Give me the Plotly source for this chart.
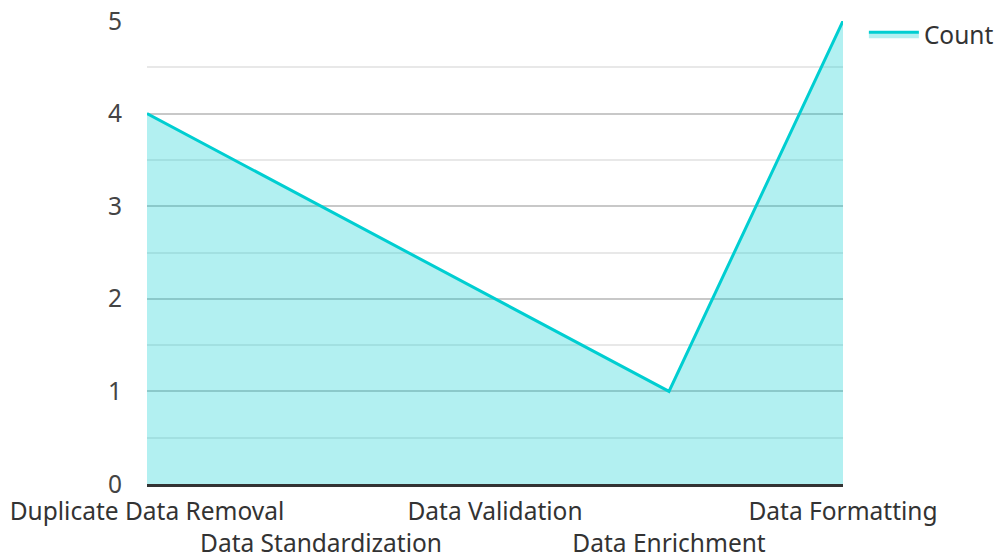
import plotly.graph_objects as go

categories = ["Duplicate Data Removal", "Data Standardization", "Data Validation",
              "Data Enrichment", "Data Formatting"]
counts = [4, 3, 2, 1, 5]
tick_text = [c if i % 2 == 0 else "<br>" + c for i, c in enumerate(categories)]

fig = go.Figure()
fig.add_trace(go.Scatter(
    x=categories, y=counts, name="Count", mode="lines",
    line=dict(color="#00CED1", width=3),
    fill="tozeroy", fillcolor="rgba(0,206,209,0.3)",
))

font_family = "Noto Sans"
fig.update_layout(
    width=999, height=555,
    margin=dict(l=147, r=156, t=21, b=71, pad=0, autoexpand=False),
    paper_bgcolor="white", plot_bgcolor="white",
    font=dict(family=font_family, size=24.5, color="#444444"),
    showlegend=True,
    legend=dict(x=1.03, y=1.02, xanchor="left", yanchor="top",
                font=dict(size=24.5, color="#333333"), bgcolor="rgba(0,0,0,0)",
                tracegroupgap=0, itemwidth=50),
    xaxis=dict(
        tickmode="array", tickvals=categories, ticktext=tick_text,
        showgrid=False, showline=True, linecolor="#333333", linewidth=3,
        ticks="", range=[0, 4], tickangle=0, automargin=False,
        ticklabelstandoff=4, ticklabeloverflow="allow",
        tickfont=dict(size=24.5, color="#333333"),
    ),
    yaxis=dict(
        range=[0, 5], tickvals=[0, 1, 2, 3, 4, 5], showgrid=True,
        gridcolor="#c8c8c8", gridwidth=1.5, zeroline=False,
        minor=dict(tickvals=[0.5, 1.5, 2.5, 3.5, 4.5], showgrid=True,
                   gridcolor="#e8e8e8", gridwidth=1.5),
        ticks="", ticklabelstandoff=24, automargin=False,
        ticklabeloverflow="allow",
        tickfont=dict(size=24.5, color="#444444"),
    ),
)
fig.write_html("out.html", config={"displayModeBar": False},
               post_script="document.body.style.margin='0px';document.body.style.overflow='hidden';")
